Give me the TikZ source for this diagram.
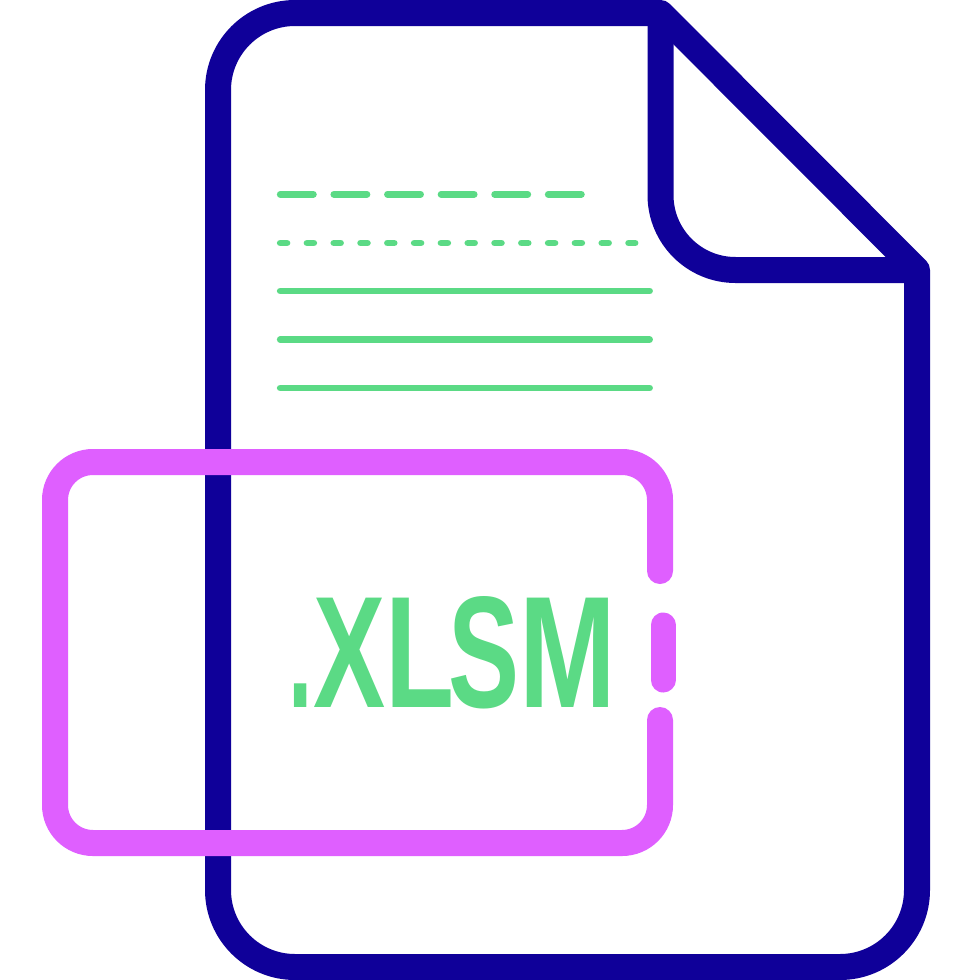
\documentclass[tikz,border=0pt]{standalone}
\usepackage{fontspec}
\setmainfont{Liberation Sans}
\definecolor{docblue}{HTML}{0F0099}
\definecolor{tagpink}{HTML}{DF5FFF}
\definecolor{textgreen}{HTML}{5BDA85}
\tikzset{
  docline/.style={draw=docblue,line width=26pt,line join=round},
  tagline/.style={draw=tagpink,line width=26pt,line cap=round},
  rule/.style={draw=textgreen,line width=6.9pt,line cap=round}
}
\begin{document}
\begin{tikzpicture}[x=1pt,y=-1pt]
\useasboundingbox (0,0) rectangle (973,980);
\fill[white] (0,0) rectangle (973,980);
% document outline
\draw[docline] (660.5,13) -- (295,13) arc[start angle=270,end angle=180,radius=77]
  -- (218,890) arc[start angle=180,end angle=90,radius=77]
  -- (840,967) arc[start angle=90,end angle=0,radius=77]
  -- (917,270) -- cycle;
% fold
\draw[docline] (660.5,13) -- (660.5,195) arc[start angle=180,end angle=90,radius=75] -- (917,270);
% text lines
\draw[rule,dash pattern=on 33pt off 20.6pt] (280.3,194.3) -- (582,194.3);
\draw[rule,dash pattern=on 6.6pt off 20.2pt] (280.3,243) -- (635,243);
\draw[rule] (280.3,291) -- (649.5,291);
\draw[rule] (280.3,339.6) -- (649.5,339.6);
\draw[rule] (280.3,388) -- (649.5,388);
% tag
\draw[tagline] (660,571) -- (660,500) arc[start angle=0,end angle=-90,radius=38]
  -- (93,462) arc[start angle=270,end angle=180,radius=38]
  -- (55,805) arc[start angle=180,end angle=90,radius=38]
  -- (622,843) arc[start angle=90,end angle=0,radius=38] -- (660,720);
\draw[tagline,line width=25pt] (663,625) -- (663,680);
\node[anchor=base west,inner sep=0pt,text=textgreen] (label) at (287.8,707)
  {\fontsize{159pt}{159pt}\selectfont\bfseries
   \scalebox{0.55}[1]{.}\kern0.9pt\scalebox{0.68}[1]{X}\kern-0.2pt\scalebox{0.71}[1]{L}\kern-5.1pt\scalebox{0.67}[1]{S}\kern-0.7pt\scalebox{0.73}[1]{M}};
\end{tikzpicture}
\end{document}
